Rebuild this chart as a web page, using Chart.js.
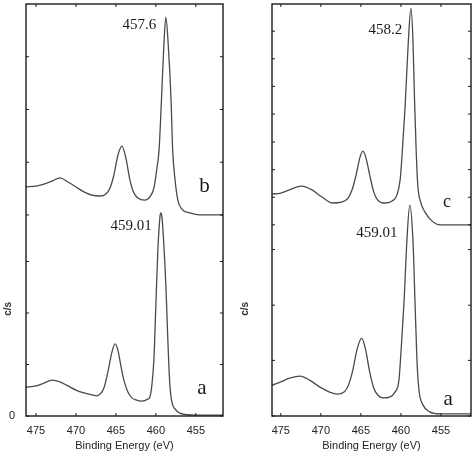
<!DOCTYPE html>
<html><head><meta charset="utf-8">
<script src="https://cdn.jsdelivr.net/npm/chart.js@4.4.1/dist/chart.umd.min.js"></script>
<style>
html,body{margin:0;padding:0;background:#fff;}
#wrap{position:relative;width:474px;height:454px;overflow:hidden;}
canvas{position:absolute;top:0;}
#c1{left:0;} #c2{left:237px;}
</style></head><body>
<div id="wrap"><canvas id="c1" width="237" height="454"></canvas><canvas id="c2" width="237" height="454"></canvas></div>
<script>
// ---- data (binding energy in eV, intensity in arbitrary c/s units) ----
const xTicks = [475, 470, 465, 460, 455];

const leftEnergyA = [476.25,475,474,473,472,471,470,469,468,467.4,467,466.5,466,465.5,465.1,464.75,464.4,464,463.5,463,462.5,461.75,461,460.75,460.5,460.25,460,459.75,459.5,459.4,459.25,459,458.75,458.5,458.25,458,457.5,457,456,455,451.6];
const leftCountsA = [7.0,7.3,8.0,8.7,8.3,7.3,6.3,5.6,5.1,4.9,5.3,6.8,10.7,15.5,17.5,16.0,12.4,8.7,5.8,4.4,3.9,3.6,4.1,4.6,7.5,13.6,26.9,40.3,48.1,49.3,48.5,41.5,31.8,18.4,7.5,3.4,1.5,0.7,0.3,0.2,0.2];

const leftEnergyB = [476.25,475,474,473,472,471,470,469,468,467,466.25,465.75,465.25,464.75,464.25,463.75,463.25,462.75,462.25,461.4,460.75,460.25,459.9,459.6,459.3,459,458.75,458.45,458.1,457.9,457.6,457.25,456.75,455.75,454.5,451.6];
const leftCountsB = [55.6,55.8,56.3,57.0,57.8,56.8,55.6,54.4,53.6,53.4,53.9,55.3,58.5,63.3,65.5,62.6,57.3,54.1,52.9,52.4,53.2,55.3,59.7,64.6,76.7,90.0,96.8,90.0,76.7,64.6,57.3,52.4,50.2,49.3,48.8,48.8];

const rightEnergyC = [476.1,475,473.9,472.4,471.1,469.9,468.5,467.4,466.6,466.1,465.6,465.1,464.75,464.4,463.9,463.4,462.9,462.1,461.1,460.5,460.1,459.9,459.5,459.1,458.75,458.5,458.3,458.1,457.9,457.5,457,456.1,455.1,451.25];
const rightCountsC = [53.9,54.1,54.9,55.8,54.9,53.2,51.7,51.9,52.9,54.9,58.5,62.9,64.3,62.9,58.5,54.4,52.4,51.7,52.2,53.6,57.3,62.1,74.3,90.0,99.0,91.3,76.7,64.6,56.1,51.7,49.5,47.3,46.4,46.4];

const rightEnergyA = [476.1,475,473.9,472.6,471.4,470.1,468.9,468,467.1,466.5,466,465.5,464.9,464.4,463.9,463.4,462.9,462.25,461.4,460.75,460.25,459.9,459.6,459.25,458.9,458.5,458.25,458,457.75,457.25,456.4,455.1,451.25];
const rightCountsA = [7.5,8.3,9.2,9.7,8.7,7.0,5.8,5.3,5.8,7.8,11.2,16.0,18.9,16.0,10.7,6.8,5.1,4.4,4.6,5.8,8.7,18.4,28.2,42.7,51.2,42.7,28.2,13.6,6.3,2.7,1.0,0.5,0.5];

const leftYTicks = [0,12.5,25,37.5,48.8,61.6,74.4,87.2];
const rightYTicks = [0,13.5,26.9,40.4,46.4,53.1,59.8,66.5,73.3,80.0,86.7,93.4];

// labels: text, energy, intensity
const leftNotes = [['457.6',462.06,94.8],['459.01',463.1,46.1],['b',453.9,55.6],['a',454.25,6.6]];
const rightNotes = [['458.2',461.94,93.7],['459.01',463.0,44.4],['c',454.25,51.9],['a',454.1,3.9]];

Chart.defaults.font.family = '"Liberation Sans", Arial, sans-serif';
Chart.defaults.color = '#222';

const decor = {
  id: 'decor',
  afterDraw(chart, args, opts) {
    const {ctx, chartArea: a, scales: {x, y}} = chart;
    ctx.save();
    const line = (x1, y1, x2, y2) => { ctx.beginPath(); ctx.moveTo(x1, y1); ctx.lineTo(x2, y2); ctx.stroke(); };
    ctx.strokeStyle = '#1a1a1a';
    ctx.lineWidth = 1.4;
    ctx.strokeRect(a.left, a.top, a.right - a.left, a.bottom - a.top);
    ctx.lineWidth = 1;
    const L = 3;
    x.ticks.forEach(t => { const px = x.getPixelForValue(t.value); line(px, a.bottom, px, a.bottom - L); line(px, a.top, px, a.top + L); });
    y.ticks.forEach(t => { const py = y.getPixelForValue(t.value); line(a.left, py, a.left + L, py); line(a.right, py, a.right - L, py); });
    ctx.fillStyle = '#1a1a1a';
    ctx.textAlign = 'center';
    ctx.textBaseline = 'middle';
    opts.notes.forEach(n => {
      const isLetter = n[0].length === 1;
      ctx.font = isLetter ? (n[0] === 'c' ? '18px "Liberation Serif"' : '21px "Liberation Serif"') : '15px "Liberation Serif"';
      ctx.fillText(n[0], x.getPixelForValue(n[1]), y.getPixelForValue(n[2]));
    });
    ctx.translate(opts.titleX, y.getPixelForValue(opts.titleV));
    ctx.rotate(-Math.PI / 2);
    ctx.font = 'bold 10px "Liberation Sans"';
    ctx.fillStyle = '#333';
    ctx.fillText('c/s', 0, 0);
    ctx.restore();
  }
};

function makePanel(id, series, xmin, xmax, yTicks, yWidth, padRight, notes, showZero) {
  new Chart(document.getElementById(id), {
    type: 'line',
    data: {
      datasets: series.map(s => ({
        data: s[0].map((e, i) => ({x: e, y: s[1][i]})),
        borderColor: '#4a4a4a',
        borderWidth: 1.3,
        pointRadius: 0,
        cubicInterpolationMode: 'monotone',
        fill: false
      }))
    },
    options: {
      responsive: false,
      animation: false,
      layout: {padding: {top: 4, right: padRight, left: 0, bottom: 0}},
      plugins: {legend: {display: false}, tooltip: {enabled: false}, decor: {notes: notes, titleX: 8, titleV: 26}},
      scales: {
        x: {
          type: 'linear', reverse: true, min: xmax, max: xmin,
          grid: {display: false}, border: {display: false},
          afterBuildTicks: s => { s.ticks = xTicks.map(v => ({value: v})); },
          afterFit: s => { s.height = 38; s.paddingLeft = 0; s.paddingRight = 0; },
          ticks: {autoSkip: false, maxRotation: 0, padding: 0, font: {size: 11}, color: '#222', callback: v => String(v)},
          title: {display: true, text: 'Binding Energy (eV)', font: {size: 11}, color: '#222', padding: {top: 0, bottom: 1}}
        },
        y: {
          type: 'linear', min: 0, max: 100,
          grid: {display: false}, border: {display: false},
          afterBuildTicks: s => { s.ticks = yTicks.map(v => ({value: v})); },
          afterFit: s => { s.width = yWidth; s.paddingTop = 0; s.paddingBottom = 0; },
          ticks: {autoSkip: false, padding: 3, font: {size: 11}, color: '#222', callback: v => (showZero && v === 0) ? '0' : ''}
        }
      }
    },
    plugins: [decor]
  });
}

makePanel('c1', [[leftEnergyA, leftCountsA], [leftEnergyB, leftCountsB]], 451.6, 476.25, leftYTicks, 26, 14, leftNotes, true);
makePanel('c2', [[rightEnergyA, rightCountsA], [rightEnergyC, rightCountsC]], 451.25, 476.1, rightYTicks, 35, 3, rightNotes, false);
</script>
</body></html>
